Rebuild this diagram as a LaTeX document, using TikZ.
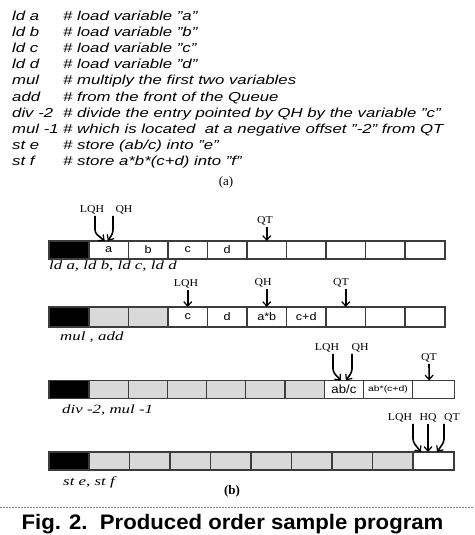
\documentclass[tikz,border=0pt]{standalone}
\usepackage{fontspec}
\usepackage{graphicx}
\setmainfont{Liberation Serif}
\setsansfont{Liberation Sans}
\usetikzlibrary{arrows.meta}
\definecolor{cellgray}{RGB}{217,217,217}
\definecolor{edge}{RGB}{60,60,60}
\newcommand{\sx}[2]{\scalebox{#1}[1]{#2}}
\newcommand{\cx}[1]{\sx{1.15}{#1}}
\newcommand{\px}[1]{\sx{1.12}{#1}}
\newcommand{\rx}[1]{\sx{1.35}{#1}}
\newcommand{\kx}[1]{\sx{1.29}{#1}}
\tikzset{
  cellbox/.style={draw=edge, line width=1.1pt, outer sep=0pt, minimum height=18pt, inner sep=0pt, anchor=north west, font=\sffamily\fontsize{11}{13}\selectfont, text=black},
  blk/.style={cellbox, fill=black},
  gry/.style={cellbox, fill=cellgray},
  wht/.style={cellbox, fill=white},
  code/.style={anchor=base west, inner sep=0pt, font=\sffamily\itshape\fontsize{13}{15}\selectfont},
  ptr/.style={inner sep=0pt, anchor=base, font=\rmfamily\fontsize{10.5}{12}\selectfont},
  rowlab/.style={anchor=base west, inner sep=0pt, font=\rmfamily\itshape\fontsize{12.5}{15}\selectfont},
  arr/.style={line width=1.6pt, -{Straight Barb[length=4.5pt,width=8pt,line width=1.2pt]}, rounded corners=3pt},
}
\begin{document}
\begin{tikzpicture}[x=1pt,y=-1pt]
\useasboundingbox (0,0) rectangle (474,535);
% code listing (a)
\foreach \i/\op/\cm in {0/{ld\ a}/{\# load variable "a"},
                        1/{ld\ b}/{\# load variable "b"},
                        2/{ld\ c}/{\# load variable "c"},
                        3/{ld\ d}/{\# load variable "d"},
                        4/{mul}/{\# multiply the first two variables},
                        5/{add}/{\# from the front of the Queue},
                        6/{div -2}/{\# divide the entry pointed by QH by the variable "c"},
                        7/{mul -1}/{\# which is located\ \ at a negative offset "-2" from QT},
                        8/{st\ e}/{\# store (ab/c) into "e"},
                        9/{st\ f}/{\# store a*b*(c+d) into "f"}}{
  \node[code] (op\i) at (12,{20.5+16.1*\i}) {\kx{\op}};
  \node[code] (cm\i) at (63,{20.5+16.1*\i}) {\kx{\cm}};
}
\node[anchor=base, inner sep=0pt, font=\rmfamily\fontsize{13}{15}\selectfont] (capa) at (226,185) {(a)};

% ---------- row 1 ----------
\node[blk, minimum width=40pt] (r1c0) at (49,241) {};
\node[wht, minimum width=39.5pt] (r1c1) at (r1c0.north east) {\cx{a}};
\node[wht, minimum width=39.5pt] (r1c2) at (r1c1.north east) {\cx{b}};
\node[wht, minimum width=39.5pt] (r1c3) at (r1c2.north east) {\cx{c}};
\node[wht, minimum width=39.5pt] (r1c4) at (r1c3.north east) {\cx{d}};
\node[wht, minimum width=39.5pt] (r1c5) at (r1c4.north east) {};
\node[wht, minimum width=39.5pt] (r1c6) at (r1c5.north east) {};
\node[wht, minimum width=39.5pt] (r1c7) at (r1c6.north east) {};
\node[wht, minimum width=39.5pt] (r1c8) at (r1c7.north east) {};
\node[wht, minimum width=40pt] (r1c9) at (r1c8.north east) {};
\node[ptr] (r1lqh) at (92,212) {\px{LQH}};
\node[ptr] (r1qh) at (124,212) {\px{QH}};
\node[ptr] (r1qt) at (265,223) {\px{QT}};
\draw[arr] ([xshift=3pt,yshift=-2pt]r1lqh.south) -- ++(0,17) -- ([xshift=-4pt]r1c1.north);
\draw[arr] ([xshift=-11pt,yshift=-2pt]r1qh.south) -- ++(0,17) -- ([xshift=-1pt]r1c1.north);
\draw[arr] ([yshift=-2pt]r1qt.south -| r1c5.north) -- (r1c5.north);
\node[rowlab] (r1lab) at (49,269) {\rx{ld a, ld b, ld c, ld d}};

% ---------- row 2 ----------
\node[blk, minimum width=40pt, minimum height=20pt] (r2c0) at (49,307) {};
\node[gry, minimum width=39.5pt, minimum height=20pt] (r2c1) at (r2c0.north east) {};
\node[gry, minimum width=39.5pt, minimum height=20pt] (r2c2) at (r2c1.north east) {};
\node[wht, minimum width=39.5pt, minimum height=20pt] (r2c3) at (r2c2.north east) {\cx{c}};
\node[wht, minimum width=39.5pt, minimum height=20pt] (r2c4) at (r2c3.north east) {\cx{d}};
\node[wht, minimum width=39.5pt, minimum height=20pt] (r2c5) at (r2c4.north east) {\cx{a*b}};
\node[wht, minimum width=39.5pt, minimum height=20pt] (r2c6) at (r2c5.north east) {\cx{c+d}};
\node[wht, minimum width=39.5pt, minimum height=20pt] (r2c7) at (r2c6.north east) {};
\node[wht, minimum width=39.5pt, minimum height=20pt] (r2c8) at (r2c7.north east) {};
\node[wht, minimum width=40pt, minimum height=20pt] (r2c9) at (r2c8.north east) {};
\node[ptr] (r2lqh) at (186,286) {\px{LQH}};
\node[ptr] (r2qh) at (263,285) {\px{QH}};
\node[ptr] (r2qt) at (341,285) {\px{QT}};
\draw[arr] ([yshift=-2pt]r2lqh.south -| r2c3.north) -- (r2c3.north);
\draw[arr] ([yshift=-2pt]r2qh.south -| r2c5.north) -- (r2c5.north);
\draw[arr] ([yshift=-2pt]r2qt.south -| r2c7.north) -- (r2c7.north);
\node[rowlab] (r2lab) at (60,340) {\rx{mul , add}};

% ---------- row 3 ----------
\node[blk, minimum width=40pt] (r3c0) at (49,380.5) {};
\node[gry, minimum width=39.2pt] (r3c1) at (r3c0.north east) {};
\node[gry, minimum width=39.2pt] (r3c2) at (r3c1.north east) {};
\node[gry, minimum width=39.2pt] (r3c3) at (r3c2.north east) {};
\node[gry, minimum width=39.2pt] (r3c4) at (r3c3.north east) {};
\node[gry, minimum width=39.2pt] (r3c5) at (r3c4.north east) {};
\node[gry, minimum width=39.2pt] (r3c6) at (r3c5.north east) {};
\node[wht, minimum width=39.5pt, font=\sffamily\fontsize{12}{14}\selectfont] (r3c7) at (r3c6.north east) {\sx{1.1}{ab/c}};
\node[wht, minimum width=48.5pt, font=\sffamily\fontsize{8}{9}\selectfont] (r3c8) at (r3c7.north east) {\sx{1.3}{ab*(c+d)}};
\node[wht, minimum width=42pt] (r3c9) at (r3c8.north east) {};
\node[ptr] (r3lqh) at (327,350) {\px{LQH}};
\node[ptr] (r3qh) at (360,350) {\px{QH}};
\node[ptr] (r3qt) at (429,360) {\px{QT}};
\draw[arr] ([xshift=6pt,yshift=-2pt]r3lqh.south) -- ++(0,18) -- ([xshift=-3pt]r3c7.north);
\draw[arr] ([xshift=-8pt,yshift=-2pt]r3qh.south) -- ++(0,18) -- ([xshift=2pt]r3c7.north);
\draw[arr] ([yshift=-2pt]r3qt.south) -- ([xshift=-4pt]r3c9.north);
\node[rowlab] (r3lab) at (62,413) {\rx{div -2, mul -1}};

% ---------- row 4 ----------
\node[blk, minimum width=40pt] (r4c0) at (49,452) {};
\foreach \j [evaluate=\j as \p using int(\j-1)] in {1,...,8}{
  \node[gry, minimum width=40.5pt] (r4c\j) at (r4c\p.north east) {};
}
\node[wht, minimum width=41pt] (r4c9) at (r4c8.north east) {};
\node[ptr] (r4lqh) at (400,420) {\px{LQH}};
\node[ptr] (r4hq) at (428,420) {\px{HQ}};
\node[ptr] (r4qt) at (452,420) {\px{QT}};
\draw[arr] ([xshift=13pt,yshift=-2pt]r4lqh.south) -- ++(0,18) -- ([xshift=-12.5pt]r4c9.north);
\draw[arr] ([yshift=-2pt]r4hq.south) -- ([xshift=-5.5pt]r4c9.north);
\draw[arr] ([xshift=-8pt,yshift=-2pt]r4qt.south) -- ++(0,18) -- ([xshift=3.5pt]r4c9.north);
\node[rowlab] (r4lab) at (63,485) {\rx{st e, st f}};
\node[anchor=base, inner sep=0pt, font=\rmfamily\bfseries\fontsize{13}{15}\selectfont] (capb) at (232,494) {(b)};

% separator and caption
\coordinate (sepL) at (0,507);
\coordinate (sepR) at (474,507);
\draw[gray, dash pattern=on 1.5pt off 1.5pt, line width=0.6pt] (sepL) -- (sepR);
\node[anchor=base, inner sep=0pt, font=\sffamily\bfseries\fontsize{21}{25}\selectfont] (fig) at (232.5,529) {\sx{1.055}{Fig. 2.\ \ Produced order sample program}};
\end{tikzpicture}
\end{document}
